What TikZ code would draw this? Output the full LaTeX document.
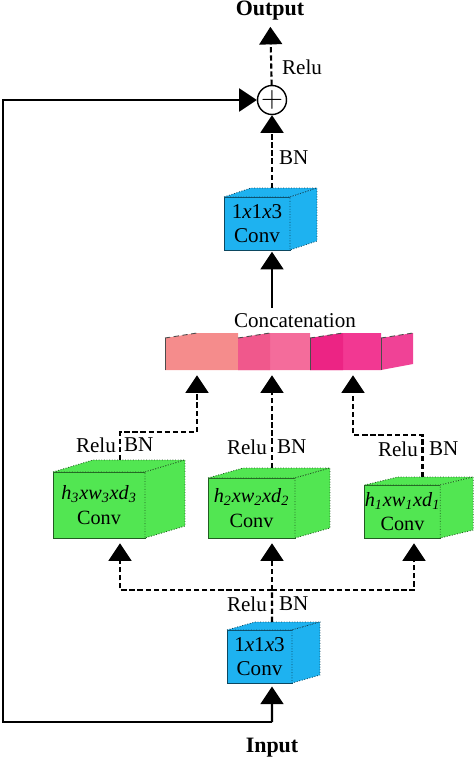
\documentclass[tikz,border=0pt]{standalone}
\usepackage{fontspec}
\setmainfont{Liberation Serif}
\usetikzlibrary{arrows.meta,calc}

\definecolor{convblue}{RGB}{30,178,240}
\definecolor{convgreen}{RGB}{82,230,82}
\definecolor{catsalmon}{RGB}{245,140,140}
\definecolor{catpinkdark}{RGB}{240,88,140}
\definecolor{catpink}{RGB}{244,108,155}
\definecolor{catmagdark}{RGB}{236,36,132}
\definecolor{catmag}{RGB}{242,56,146}
\definecolor{catend}{RGB}{240,66,150}

% top and side faces of a box, drawn next to its front node
\newcommand{\boxdepth}[4]{%
  \filldraw[fill=#4, draw=#4!40!black, densely dotted, line width=0.5pt]
    (#1.north west) -- ++(#2,#3) -- ($(#1.north east)+(#2,#3)$) -- (#1.north east) -- cycle;
  \filldraw[fill=#4, draw=#4!40!black, densely dotted, line width=0.5pt]
    (#1.north east) -- ++(#2,#3) -- ($(#1.south east)+(#2,#3)$) -- (#1.south east) -- cycle;
}

\begin{document}
\begin{tikzpicture}[
    x=0.02cm, y=-0.02cm,
    font=\fontsize{12}{14}\selectfont,
    >={Triangle[width=13pt,length=10pt]},
    wire/.style={line width=1.2pt},
    dashwire/.style={line width=1.2pt, dash pattern=on 3pt off 1.6pt},
    tag/.style={inner sep=1pt},
    title/.style={font=\fontsize{12.5}{14}\selectfont\bfseries},
    blueconv/.style={draw=convblue!40!black, line width=0.5pt, fill=convblue, align=center, inner sep=0pt, outer sep=0pt, minimum width=1.32cm, minimum height=1.06cm},
    greenconv/.style={draw=convgreen!40!black, line width=0.5pt, fill=convgreen, align=center, inner sep=0pt, outer sep=0pt, font=\fontsize{11.5}{14}\selectfont},
    catedge/.style={draw=black!70, line width=0.5pt},
    catslant/.style={draw=black!70, line width=0.5pt, densely dashed}
  ]
  \useasboundingbox (0,0) rectangle (474,761);
  \coordinate (axis) at (272,0);

  \node[title] (output) at (270,11) {Output};
  \node[title] (input) at (272,748) {Input};
  \node[draw, circle, line width=0.8pt, minimum size=0.5cm, inner sep=0pt, font=\fontsize{16}{16}\selectfont] (sum) at (272,100) {$+$};

  \node[blueconv] (conv1) at (257,223.5) {1\textit{x}1\textit{x}3\\Conv};
  \boxdepth{conv1}{27}{-9}{convblue}

  \node (cattext) at (295,321) {Concatenation};
  \node[inner sep=0pt, outer sep=0pt, minimum width=4.96cm, minimum height=0.74cm] (catbar) at (289,351.5) {};
  \fill[catsalmon] (165,338) -- (197,333) -- (238,333) -- (238,370) -- (165,370) -- cycle;
  \fill[catpink] (238,338) -- (270,333) -- (310,333) -- (310,370) -- (238,370) -- cycle;
  \fill[catpinkdark] (238,338) -- (270,333) -- (270,370) -- (238,370) -- cycle;
  \fill[catmag] (310,338) -- (343,333) -- (381,333) -- (381,370) -- (310,370) -- cycle;
  \fill[catmagdark] (310,338) -- (343,333) -- (343,370) -- (310,370) -- cycle;
  \fill[catend] (381,338) -- (413,333) -- (413,364) -- (381,370) -- cycle;
  \draw[catedge] (165,370) -- (165,338);
  \draw[catedge] (310,370) -- (310,338);
  \draw[catedge] (381,370) -- (381,338);
  \draw[catslant] (165,338) -- (197,333);
  \draw[catslant] (238,338) -- (270,333);
  \draw[catslant] (310,338) -- (343,333);
  \draw[catslant] (381,338) -- (413,333);

  \node[greenconv, minimum width=1.84cm, minimum height=1.32cm] (br3) at (99,505) {\textit{h\textsubscript{3}xw\textsubscript{3}xd\textsubscript{3}}\\Conv};
  \boxdepth{br3}{40}{-12}{convgreen}
  \node[greenconv, minimum width=1.74cm, minimum height=1.2cm] (br2) at (251.5,508) {\textit{h\textsubscript{2}xw\textsubscript{2}xd\textsubscript{2}}\\Conv};
  \boxdepth{br2}{35}{-10}{convgreen}
  \node[greenconv, minimum width=1.5cm, minimum height=1.06cm] (br1) at (402.5,511.5) {\textit{h\textsubscript{1}xw\textsubscript{1}xd\textsubscript{1}}\\Conv};
  \boxdepth{br1}{33}{-8}{convgreen}

  \node[blueconv, minimum width=1.3cm] (conv0) at (259.5,656.5) {1\textit{x}1\textit{x}3\\Conv};
  \boxdepth{conv0}{28}{-8}{convblue}

  % connector ends on the boxes
  \coordinate (conv1-top) at ($(conv1.north)+(15,-9)$);
  \coordinate (conv1-bot) at ($(conv1.south)+(15,0)$);
  \coordinate (conv0-top) at ($(conv0.north)+(12.5,-8)$);
  \coordinate (conv0-bot) at ($(conv0.south)+(12.5,0)$);
  \coordinate (br3-top) at ($(br3.north)+(21,-12)$);
  \coordinate (br3-bot) at ($(br3.south)+(21,0)$);
  \coordinate (br2-top) at ($(br2.north)+(20.5,-10)$);
  \coordinate (br1-top) at ($(br1.north)+(20,-8)$);
  \coordinate (br1-bot) at ($(br1.south)+(11.5,0)$);
  \coordinate (turn3) at (197,432);
  \coordinate (turn1) at (353,435);
  \coordinate (fork) at (272,590);
  \coordinate (split) at (272,722);
  \coordinate (corner) at (3,722);

  \draw[dashwire, ->] (sum) -- (output);
  \draw[dashwire, ->] (conv1-top) -- (sum);
  \draw[wire, ->, shorten >=1pt] (cattext.north -| axis) -- (conv1-bot);
  \draw[dashwire, ->, shorten >=3pt] (br3-top) |- (turn3) -- (turn3 |- catbar.south);
  \draw[dashwire, ->, shorten >=3pt] (br2-top) -- (br2-top |- catbar.south);
  \draw[dashwire, ->, shorten >=3pt] (br1-top) |- (turn1) -- (turn1 |- catbar.south);
  \draw[dashwire] (conv0-top) -- (fork);
  \draw[dashwire, ->, shorten >=3pt] (fork) -| (br3-bot);
  \draw[dashwire, ->, shorten >=3pt] (fork) -- (fork |- br2.south);
  \draw[dashwire, ->, shorten >=3pt] (fork) -| (br1-bot);
  \draw[wire, ->, shorten >=2pt] (split) -- (conv0-bot);
  \draw[wire, ->] (split) -- (corner) |- (sum.west);

  \node[tag, anchor=west] (relu-out) at (280,67) {Relu};
  \node[tag, anchor=west] (bn-sum) at (277,158) {BN};
  \node[tag, anchor=east] (relu3) at (118,445) {Relu};
  \node[tag, anchor=west] (bn3) at (122,445) {BN};
  \node[tag, anchor=east] (relu2) at (269,447) {Relu};
  \node[tag, anchor=west] (bn2) at (275,447) {BN};
  \node[tag, anchor=east] (relu1) at (420,449) {Relu};
  \node[tag, anchor=west] (bn1) at (427,449) {BN};
  \node[tag, anchor=east] (relu0) at (269,604) {Relu};
  \node[tag, anchor=west] (bn0) at (277,604) {BN};
\end{tikzpicture}
\end{document}
